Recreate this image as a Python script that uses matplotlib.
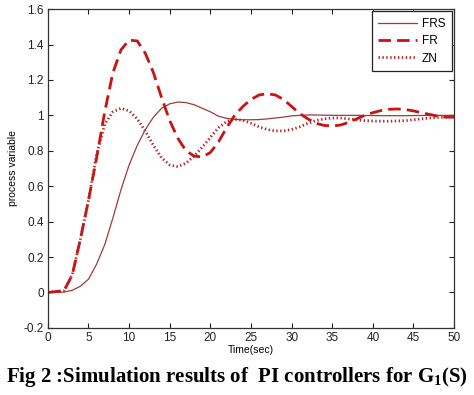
import numpy as np
import matplotlib.pyplot as plt

# time axis (sec) and step responses
t = np.arange(0, 51, 1)

frs = [0, 0, 0.002, 0.012, 0.035, 0.075, 0.16, 0.27, 0.42, 0.58,
       0.72, 0.83, 0.92, 0.99, 1.04, 1.065, 1.075, 1.072, 1.06, 1.04,
       1.02, 0.995, 0.983, 0.977, 0.975, 0.975, 0.976, 0.98, 0.985, 0.99,
       0.997, 1.0, 1.002, 1.002, 1.001, 1.0, 1.0, 1.0, 1.0, 0.999,
       0.999, 0.998, 0.998, 0.998, 0.998, 0.999, 0.999, 1.0, 1.0, 1.0, 1.0]

fr = [0, 0.005, 0.01, 0.1, 0.3, 0.52, 0.76, 1.02, 1.24, 1.37,
      1.425, 1.42, 1.35, 1.24, 1.1, 0.97, 0.87, 0.8, 0.77, 0.765,
      0.79, 0.85, 0.93, 1.0, 1.05, 1.09, 1.115, 1.122, 1.115, 1.09,
      1.05, 1.01, 0.98, 0.955, 0.943, 0.94, 0.945, 0.96, 0.98, 1.0,
      1.015, 1.027, 1.034, 1.036, 1.033, 1.025, 1.015, 1.005, 0.995, 0.99, 0.99]

zn = [0, 0.005, 0.01, 0.1, 0.3, 0.52, 0.78, 0.95, 1.02, 1.04,
      1.025, 0.98, 0.91, 0.83, 0.76, 0.72, 0.71, 0.73, 0.77, 0.82,
      0.875, 0.93, 0.965, 0.978, 0.972, 0.955, 0.935, 0.92, 0.912, 0.912,
      0.92, 0.935, 0.955, 0.97, 0.98, 0.985, 0.985, 0.98, 0.975, 0.97,
      0.968, 0.967, 0.967, 0.968, 0.97, 0.975, 0.98, 0.985, 0.988, 0.99, 0.99]

xticks = list(range(0, 51, 5))
yticks = [-0.2, 0, 0.2, 0.4, 0.6, 0.8, 1, 1.2, 1.4, 1.6]
ylabels = ['-0.2', '0', '0.2', '0.4', '0.6', '0.8', '1', '1.2', '1.4', '1.6']

plt.rcParams['font.family'] = ['Liberation Sans', 'DejaVu Sans']
plt.rcParams['mathtext.default'] = 'regular'

fig = plt.figure(figsize=(4.74, 3.95), dpi=100)
ax = fig.add_axes([0.101, 0.170, 0.857, 0.807])

ax.plot(t, frs, color='#9e3a3a', lw=0.9, label='FRS')
ax.plot(t, fr, color='#cc1111', lw=2.0, linestyle=(0, (4.5, 2.2)), label='FR')
ax.plot(t, zn, color='#b52525', lw=2.0, linestyle=(0, (0.5, 0.9)), label='ZN')

ax.set_xlim(0, 50)
ax.set_ylim(-0.2, 1.6)
ax.set_xticks(xticks)
ax.set_xticklabels([str(v) for v in xticks])
ax.set_yticks(yticks)
ax.set_yticklabels(ylabels)
ax.tick_params(direction='in', top=True, right=True, labelsize=8.5,
               length=3.5, width=0.8, colors='#222222', pad=3)
for s in ax.spines.values():
    s.set_linewidth(0.9)
    s.set_color('#333333')

ax.set_xlabel('Time(sec)', fontsize=7.5, labelpad=1)
ax.set_ylabel('process variable', fontsize=7.5, labelpad=4)

leg = ax.legend(loc='upper right', fontsize=8.5, handlelength=3.3,
                fancybox=False, framealpha=1, borderaxespad=0.2,
                borderpad=0.55, labelspacing=0.45, handletextpad=0.4)
leg.get_frame().set_edgecolor('#222222')
leg.get_frame().set_linewidth(0.9)

fig.text(0.012, 0.033, 'Fig 2 :Simulation results of  PI controllers for G$_1$(S)',
         family='Liberation Serif', fontweight='bold', fontsize=15,
         ha='left', va='baseline')

fig.savefig('out.png', dpi=100)
